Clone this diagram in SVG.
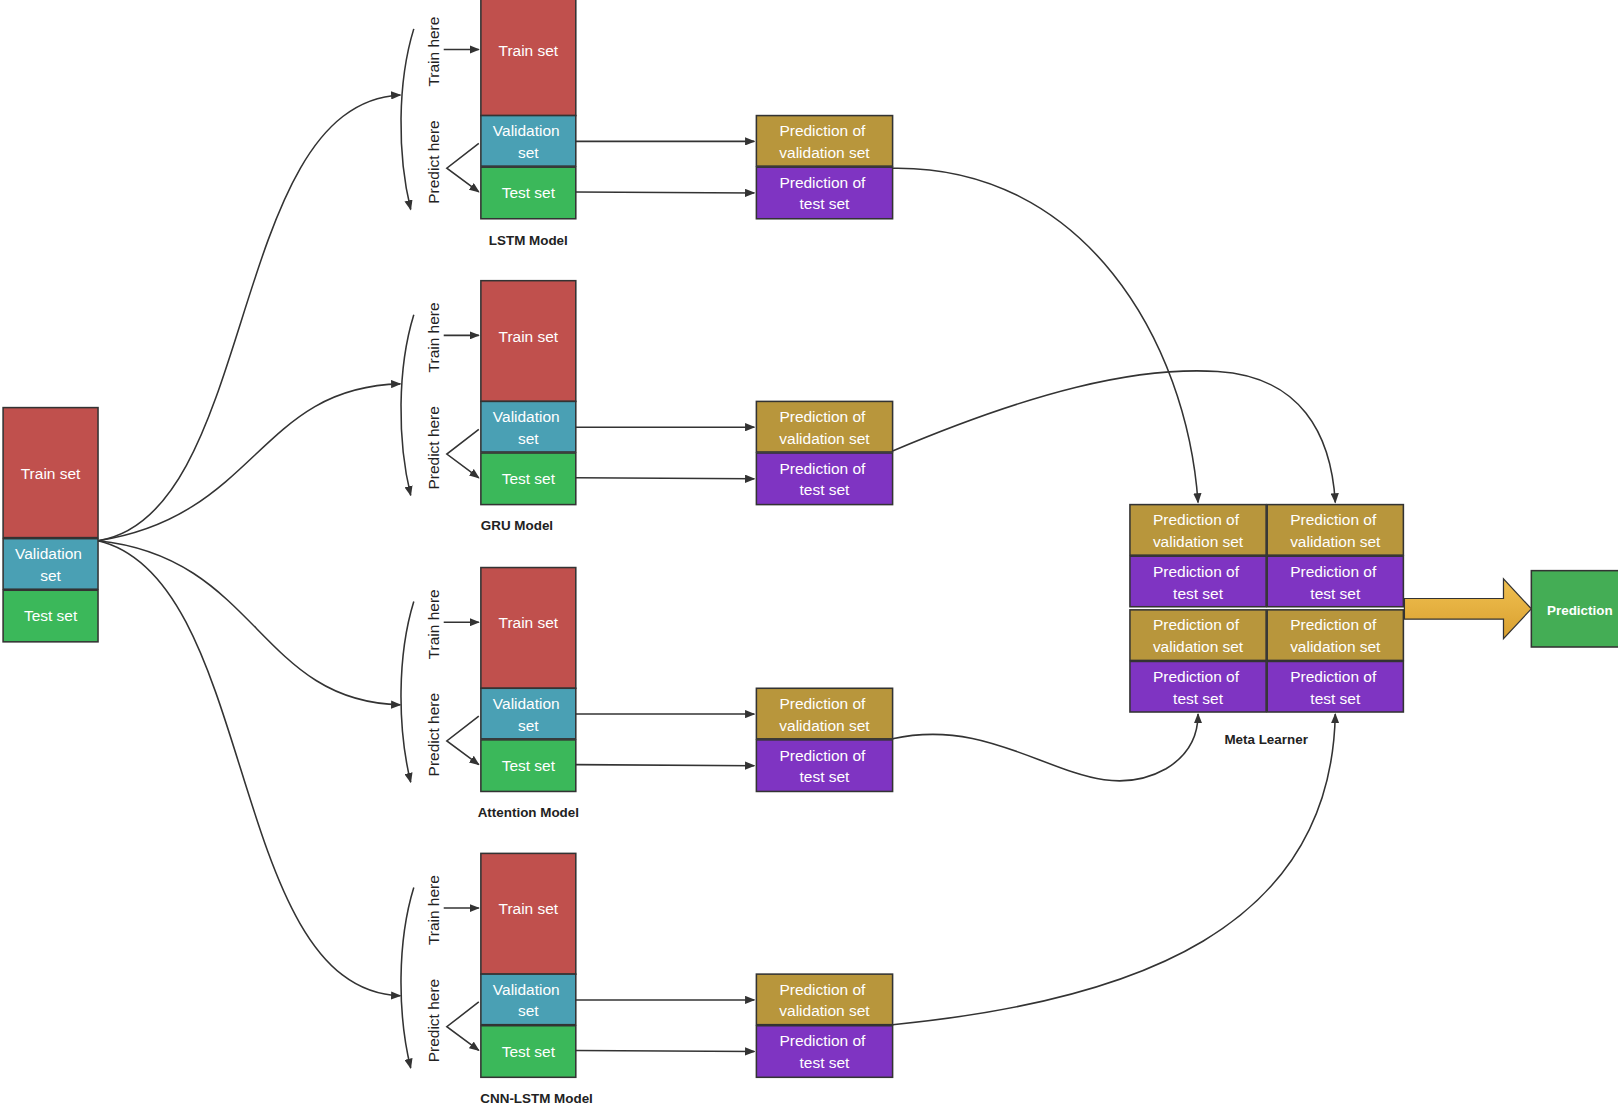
<svg xmlns="http://www.w3.org/2000/svg" width="1618" height="1106" viewBox="0 0 1618 1106">
<defs>
<marker id="ah" markerWidth="10" markerHeight="8" refX="9" refY="4" orient="auto" markerUnits="userSpaceOnUse"><path d="M0,0 L10,4 L0,8 Z" fill="#333"/></marker>
<linearGradient id="gold" x1="0" y1="0" x2="0" y2="1"><stop offset="0" stop-color="#f0c050"/><stop offset="1" stop-color="#d9a030"/></linearGradient>
<g id="model">
<path class="c" d="M401,28 C385,80 385,150 398,203" marker-end="url(#ah)"/>
<line class="c" x1="430" y1="48" x2="464" y2="48" marker-end="url(#ah)"/>
<path class="c" d="M464,139 L433,163 L464,186" marker-end="url(#ah)" marker-start="url(#ahs)"/>
<text class="r" transform="translate(425,50) rotate(-90)">Train here</text>
<text class="r" transform="translate(425,157) rotate(-90)">Predict here</text>
<rect class="b" x="466" y="-5" width="92" height="117" fill="#c0504d"/>
<text class="t" x="512" y="54">Train set</text>
<rect class="b" x="466" y="112" width="92" height="49" fill="#4aa0b4"/>
<text class="t" x="510" y="132">Validation</text><text class="t" x="512" y="153">set</text>
<rect class="b" x="466" y="162" width="92" height="50" fill="#3bb85a"/>
<text class="t" x="512" y="192">Test set</text>
<line class="c" x1="558" y1="137" x2="731" y2="137" marker-end="url(#ah)"/>
<line class="c" x1="558" y1="186" x2="731" y2="187" marker-end="url(#ah)"/>
<rect class="b" x="733" y="112" width="132" height="49" fill="#b8963c"/>
<text class="t" x="797" y="132">Prediction of</text><text class="t" x="799" y="153">validation set</text>
<rect class="b" x="733" y="162" width="132" height="50" fill="#7f34c2"/>
<text class="t" x="797" y="182">Prediction of</text><text class="t" x="799" y="203">test set</text>
</g>
<marker id="ahs" markerWidth="1" markerHeight="1" refX="0" refY="0"><path d="M0,0"/></marker>
</defs>
<style>
.b{stroke:#333;stroke-width:1.5}
.t{font-family:"Liberation Sans",Arial,sans-serif;font-size:15px;fill:#fff;text-anchor:middle}
.r{font-family:"Liberation Sans",Arial,sans-serif;font-size:15px;fill:#222;text-anchor:middle}
.l{font-family:"Liberation Sans",Arial,sans-serif;font-size:13px;font-weight:bold;fill:#222;text-anchor:middle}
.c{fill:none;stroke:#333;stroke-width:1.5}
</style>
<rect width="1618" height="1106" fill="#fff"/>
<g transform="scale(1.0319)">
<g id="source">
<rect class="b" x="3" y="395" width="92" height="126" fill="#c0504d"/>
<text class="t" x="49" y="464">Train set</text>
<rect class="b" x="3" y="522" width="92" height="49" fill="#4aa0b4"/>
<text class="t" x="47" y="542">Validation</text><text class="t" x="49" y="563">set</text>
<rect class="b" x="3" y="572" width="92" height="50" fill="#3bb85a"/>
<text class="t" x="49" y="602">Test set</text>
</g>
<g id="lstm"><use href="#model"/><text class="l" x="512" y="237">LSTM Model</text></g>
<g id="gru" transform="translate(0,277)"><use href="#model"/><text class="l" x="501" y="237">GRU Model</text></g>
<g id="attention" transform="translate(0,555)"><use href="#model"/><text class="l" x="512" y="237">Attention Model</text></g>
<g id="cnnlstm" transform="translate(0,832)"><use href="#model"/><text class="l" x="520" y="237">CNN-LSTM Model</text></g>
<g id="meta">
<rect class="b" x="1095" y="489" width="132" height="49" fill="#b8963c"/><text class="t" x="1159" y="509">Prediction of</text><text class="t" x="1161" y="530">validation set</text>
<rect class="b" x="1228" y="489" width="132" height="49" fill="#b8963c"/><text class="t" x="1292" y="509">Prediction of</text><text class="t" x="1294" y="530">validation set</text>
<rect class="b" x="1095" y="539" width="132" height="49" fill="#7f34c2"/><text class="t" x="1159" y="559">Prediction of</text><text class="t" x="1161" y="580">test set</text>
<rect class="b" x="1228" y="539" width="132" height="49" fill="#7f34c2"/><text class="t" x="1292" y="559">Prediction of</text><text class="t" x="1294" y="580">test set</text>
<rect class="b" x="1095" y="591" width="132" height="49" fill="#b8963c"/><text class="t" x="1159" y="611">Prediction of</text><text class="t" x="1161" y="632">validation set</text>
<rect class="b" x="1228" y="591" width="132" height="49" fill="#b8963c"/><text class="t" x="1292" y="611">Prediction of</text><text class="t" x="1294" y="632">validation set</text>
<rect class="b" x="1095" y="641" width="132" height="49" fill="#7f34c2"/><text class="t" x="1159" y="661">Prediction of</text><text class="t" x="1161" y="682">test set</text>
<rect class="b" x="1228" y="641" width="132" height="49" fill="#7f34c2"/><text class="t" x="1292" y="661">Prediction of</text><text class="t" x="1294" y="682">test set</text>
<text class="l" x="1227" y="721">Meta Learner</text>
</g>
<g id="output">
<rect class="b" x="1484" y="553" width="100" height="74" fill="#44ad55"/>
<text class="t" x="1531" y="596" style="font-weight:bold;font-size:13px">Prediction</text>
</g>
<g id="connectors">
<path class="c" d="M95,524 C250,500 220,100 388,92" marker-end="url(#ah)"/>
<path class="c" d="M95,524 C250,500 250,375 388,372" marker-end="url(#ah)"/>
<path class="c" d="M95,524 C250,540 250,680 388,683" marker-end="url(#ah)"/>
<path class="c" d="M95,524 C250,560 220,960 388,965" marker-end="url(#ah)"/>
<path class="c" d="M865,163 C1050,160 1150,330 1161,487" marker-end="url(#ah)"/>
<path class="c" d="M865,437 C1000,380 1100,355 1180,360 C1260,365 1290,420 1294,487" marker-end="url(#ah)"/>
<path class="c" d="M865,716 C980,690 1050,790 1130,745 C1155,730 1161,710 1161,692" marker-end="url(#ah)"/>
<path class="c" d="M865,993 C1100,970 1290,900 1294,692" marker-end="url(#ah)"/>
<path d="M1361,580 L1457,580 L1457,561 L1484,590 L1457,619 L1457,600 L1361,600 Z" fill="url(#gold)" stroke="#333" stroke-width="1.2"/>
</g>
</g>
</svg>
